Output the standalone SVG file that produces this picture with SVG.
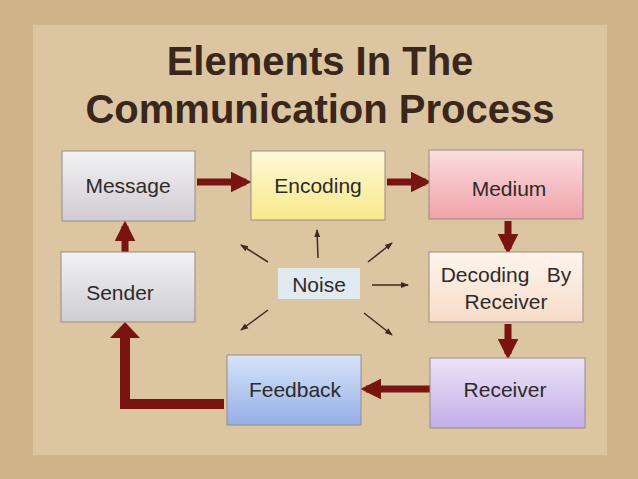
<svg xmlns="http://www.w3.org/2000/svg" width="638" height="479" viewBox="0 0 638 479">
<defs>
<linearGradient id="gGray" x1="0" y1="0" x2="0" y2="1"><stop offset="0" stop-color="#f2f1f3"/><stop offset="1" stop-color="#cfcdd2"/></linearGradient>
<linearGradient id="gYel" x1="0" y1="0" x2="0" y2="1"><stop offset="0" stop-color="#fdf8d8"/><stop offset="1" stop-color="#f8e98a"/></linearGradient>
<linearGradient id="gPink" x1="0" y1="0" x2="0" y2="1"><stop offset="0" stop-color="#fbdde0"/><stop offset="1" stop-color="#f0a2aa"/></linearGradient>
<linearGradient id="gPeach" x1="0" y1="0" x2="0" y2="1"><stop offset="0" stop-color="#fdf5ee"/><stop offset="1" stop-color="#f6dcc8"/></linearGradient>
<linearGradient id="gBlue" x1="0" y1="0" x2="0" y2="1"><stop offset="0" stop-color="#d7e4f8"/><stop offset="1" stop-color="#94aee8"/></linearGradient>
<linearGradient id="gLav" x1="0" y1="0" x2="0" y2="1"><stop offset="0" stop-color="#ebe3f7"/><stop offset="1" stop-color="#c3aee8"/></linearGradient>
<marker id="big" markerWidth="3" markerHeight="3" refX="2.2" refY="1.5" orient="auto" markerUnits="strokeWidth"><path d="M0,0 L3,1.5 L0,3 Z" fill="#7a1410"/></marker>
<marker id="thin" markerWidth="8" markerHeight="8" refX="7" refY="4" orient="auto" markerUnits="userSpaceOnUse"><path d="M0,1 L8,4 L0,7 Z" fill="#3a2a20"/></marker>
</defs>
<style>
.box{stroke:#9a8a80;stroke-width:1}
.lbl{font-family:"Liberation Sans",Arial,sans-serif;font-size:21px;fill:#2e2a28;text-anchor:middle}
.ttl{font-family:"Liberation Sans",Arial,sans-serif;font-size:40px;font-weight:bold;fill:#3a261a;text-anchor:middle}
.fat{stroke:#7a1410;stroke-width:7;fill:none;marker-end:url(#big)}
.nz{stroke:#3a2a20;stroke-width:1.5;fill:none;marker-end:url(#thin)}
</style>
<rect width="638" height="479" fill="#cfb48a"/>
<rect x="33" y="25" width="574" height="430" fill="#dcc6a2"/>
<text class="ttl" x="320" y="75">Elements In The</text>
<text class="ttl" x="320" y="123">Communication Process</text>
<g id="connectors">
<path class="fat" d="M197,182 L246,182"/>
<path class="fat" d="M387,182 L426,182"/>
<path class="fat" d="M508,221 L508,249"/>
<path class="fat" d="M508,324 L508,354"/>
<path class="fat" d="M430,389 L366,389"/>
<path class="fat" d="M125,252 L125,226"/>
<path d="M224,404 L125,404 L125,334" stroke="#7a1410" stroke-width="10" fill="none"/>
<path d="M110,338 L125,322 L140,338 Z" fill="#7a1410"/>
<path class="nz" d="M268,262 L241,245"/>
<path class="nz" d="M318,258 L317,230"/>
<path class="nz" d="M368,262 L392,243"/>
<path class="nz" d="M372,285 L408,285"/>
<path class="nz" d="M268,310 L241,330"/>
<path class="nz" d="M364,313 L392,335"/>
</g>
<g id="message"><rect class="box" x="62" y="151" width="133" height="70" fill="url(#gGray)"/><text class="lbl" x="128" y="193">Message</text></g>
<g id="encoding"><rect class="box" x="251" y="151" width="134" height="69" fill="url(#gYel)"/><text class="lbl" x="318" y="193">Encoding</text></g>
<g id="medium"><rect class="box" x="429" y="150" width="154" height="69" fill="url(#gPink)"/><text class="lbl" x="509" y="196">Medium</text></g>
<g id="sender"><rect class="box" x="61" y="252" width="134" height="70" fill="url(#gGray)"/><text class="lbl" x="120" y="300">Sender</text></g>
<g id="noise"><rect x="278" y="268" width="82" height="31" fill="#e1eaf0"/><text class="lbl" x="319" y="292">Noise</text></g>
<g id="decoding"><rect class="box" x="429" y="252" width="154" height="70" fill="url(#gPeach)"/><text class="lbl" x="506" y="282" xml:space="preserve">Decoding   By</text><text class="lbl" x="506" y="309">Receiver</text></g>
<g id="feedback"><rect class="box" x="227" y="355" width="134" height="70" fill="url(#gBlue)"/><text class="lbl" x="295" y="397">Feedback</text></g>
<g id="receiver"><rect class="box" x="430" y="358" width="155" height="70" fill="url(#gLav)"/><text class="lbl" x="505" y="397">Receiver</text></g>
</svg>
